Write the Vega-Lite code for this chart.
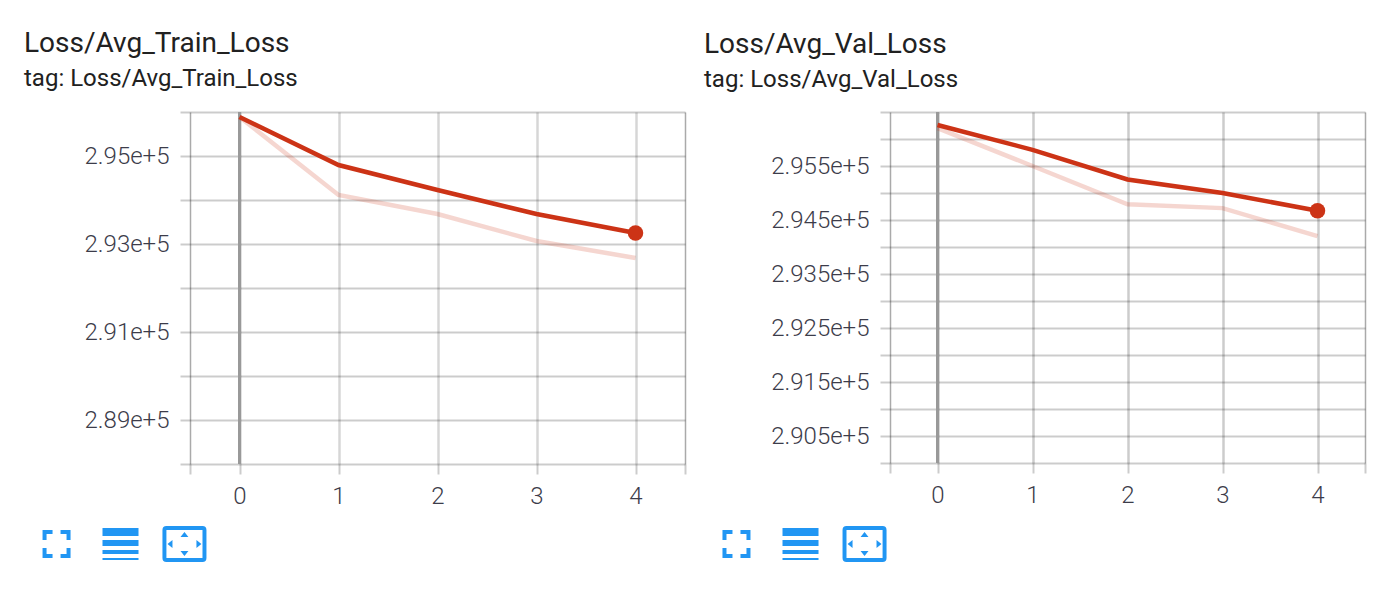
{
  "$schema": "https://vega.github.io/schema/vega-lite/v6.json",
  "padding": {"left": 24, "top": 30, "right": 10, "bottom": 10},
  "background": "white",
  "spacing": 18,
  "config": {
    "font": "Roboto",
    "view": {"stroke": null},
    "title": {"anchor": "start", "frame": "group", "font": "Roboto", "fontSize": 28, "fontWeight": 400, "color": "#212121", "subtitleFont": "Roboto", "subtitleFontSize": 24, "subtitleColor": "#212121", "subtitlePadding": 9, "offset": 19},
    "axis": {
      "domain": false,
      "title": null,
      "grid": true,
      "gridColor": "#000",
      "gridOpacity": 0.2,
      "gridWidth": 2,
      "tickColor": "#000",
      "tickOpacity": 0.2,
      "tickWidth": 2,
      "tickSize": 10,
      "labelFont": "Roboto",
      "labelFontWeight": 300,
      "labelFontSize": 24,
      "labelColor": "#3c3c4a"
    }
  },
  "hconcat": [
    {
      "title": {"text": "Loss/Avg_Train_Loss", "subtitle": "tag: Loss/Avg_Train_Loss", "dx": -166, "dy": 2},
      "width": 495,
      "height": 352,
      "data": {
        "values": [
          {"step": 0, "loss": 295886, "series": "raw"},
          {"step": 1, "loss": 294114, "series": "raw"},
          {"step": 2, "loss": 293682, "series": "raw"},
          {"step": 3, "loss": 293068, "series": "raw"},
          {"step": 4, "loss": 292682, "series": "raw"},
          {"step": 0, "loss": 295886, "series": "smoothed"},
          {"step": 1, "loss": 294795, "series": "smoothed"},
          {"step": 2, "loss": 294227, "series": "smoothed"},
          {"step": 3, "loss": 293682, "series": "smoothed"},
          {"step": 4, "loss": 293250, "series": "smoothed"}
        ]
      },
      "encoding": {
        "x": {
          "field": "step",
          "type": "quantitative",
          "scale": {"domain": [-0.5, 4.5], "nice": false, "zero": false},
          "axis": {
            "values": [-0.5, 0, 1, 2, 3, 4, 4.5],
            "labelPadding": 10,
            "labelExpr": "datum.value % 1 == 0 ? datum.label : ''",
            "gridOpacity": 1,
            "gridColor": {"condition": {"test": "datum.value == -0.5 || datum.value == 4.5", "value": "#aaaaaa"}, "value": "rgba(0,0,0,0.16)"},
            "gridWidth": {"condition": {"test": "datum.value == -0.5 || datum.value == 4.5", "value": 1.5}, "value": 2.5}
          }
        },
        "y": {
          "field": "loss",
          "type": "quantitative",
          "scale": {"domain": [288000, 296000], "nice": false, "zero": false},
          "axis": {
            "values": [288000, 289000, 290000, 291000, 292000, 293000, 294000, 295000, 296000],
            "labelPadding": 11,
            "labelExpr": "(datum.value / 1000) % 2 == 1 ? format(datum.value / 100000, '.2f') + 'e+5' : ''"
          }
        }
      },
      "layer": [
        {
          "data": {"values": [{"step": 0}]},
          "mark": {"type": "rule", "color": "#999999", "strokeWidth": 3},
          "encoding": {"x": {"field": "step", "type": "quantitative"}, "y": {"value": 0}, "y2": {"value": 352}}
        },
        {
          "mark": {"type": "line", "strokeWidth": 4.5, "color": "#cc3316", "opacity": 0.2},
          "transform": [{"filter": "datum.series == 'raw'"}]
        },
        {
          "mark": {"type": "line", "strokeWidth": 4.5, "color": "#cc3316"},
          "transform": [{"filter": "datum.series == 'smoothed'"}]
        },
        {
          "mark": {"type": "circle", "size": 240, "color": "#cc3316", "opacity": 1},
          "transform": [{"filter": "datum.series == 'smoothed' && datum.step == 4"}]
        },
        {
          "data": {"values": [{"step": -1.848, "loss": 286182}]},
          "mark": {"type": "point", "filled": true, "opacity": 1, "color": "#2196f3", "strokeWidth": 0, "size": 784, "shape": "M-1,-1H-.286V-.714H-.714V-.286H-1ZM1,-1V-.286H.714V-.714H.286V-1ZM-1,1V.286H-.714V.714H-.286V1ZM1,1H.286V.714H.714V.286H1Z"}
        },
        {
          "data": {"values": [{"step": -1.202, "loss": 286182}]},
          "mark": {"type": "point", "filled": true, "opacity": 1, "color": "#2196f3", "strokeWidth": 0, "size": 1296, "shape": "M-1,-.889H1V-.444H-1ZM-1,-.222H1V.111H-1ZM-1,.333H1V.556H-1ZM-1,.778H1V.889H-1Z"}
        },
        {
          "data": {"values": [{"step": -0.556, "loss": 286182}]},
          "mark": {"type": "point", "filled": true, "opacity": 1, "color": "#2196f3", "strokeWidth": 0, "size": 1936, "shape": "M-.82,-.82H.82Q1,-.82 1,-.64V.64Q1,.82 .82,.82H-.82Q-1,.82 -1,.64V-.64Q-1,-.82 -.82,-.82ZM-.82,-.64V.64H.82V-.64ZM0,-.545L-.18,-.318H.18ZM0,.545L.18,.318H-.18ZM-.77,0L-.545,.18V-.18ZM.77,0L.545,-.18V.18Z"}
        }
      ]
    },
    {
      "title": {"text": "Loss/Avg_Val_Loss", "subtitle": "tag: Loss/Avg_Val_Loss", "dx": -186},
      "width": 475,
      "height": 351,
      "data": {
        "values": [
          {"step": 0, "loss": 296200, "series": "raw"},
          {"step": 1, "loss": 295500, "series": "raw"},
          {"step": 2, "loss": 294790, "series": "raw"},
          {"step": 3, "loss": 294720, "series": "raw"},
          {"step": 4, "loss": 294200, "series": "raw"},
          {"step": 0, "loss": 296260, "series": "smoothed"},
          {"step": 1, "loss": 295800, "series": "smoothed"},
          {"step": 2, "loss": 295250, "series": "smoothed"},
          {"step": 3, "loss": 295000, "series": "smoothed"},
          {"step": 4, "loss": 294670, "series": "smoothed"}
        ]
      },
      "encoding": {
        "x": {
          "field": "step",
          "type": "quantitative",
          "scale": {"domain": [-0.5, 4.5], "nice": false, "zero": false},
          "axis": {
            "values": [-0.5, 0, 1, 2, 3, 4, 4.5],
            "labelPadding": 10,
            "labelExpr": "datum.value % 1 == 0 ? datum.label : ''",
            "gridOpacity": 1,
            "gridColor": {"condition": {"test": "datum.value == -0.5 || datum.value == 4.5", "value": "#aaaaaa"}, "value": "rgba(0,0,0,0.2)"},
            "gridWidth": {"condition": {"test": "datum.value == -0.5 || datum.value == 4.5", "value": 1.5}, "value": 2.5}
          }
        },
        "y": {
          "field": "loss",
          "type": "quantitative",
          "scale": {"domain": [290000, 296500], "nice": false, "zero": false},
          "axis": {
            "values": [290000, 290500, 291000, 291500, 292000, 292500, 293000, 293500, 294000, 294500, 295000, 295500, 296000, 296500],
            "labelPadding": 11,
            "labelExpr": "(datum.value / 1000) % 1 == 0.5 && datum.value < 296000 ? format(datum.value / 100000, '.3f') + 'e+5' : ''"
          }
        }
      },
      "layer": [
        {
          "data": {"values": [{"step": 0}]},
          "mark": {"type": "rule", "color": "#999999", "strokeWidth": 3},
          "encoding": {"x": {"field": "step", "type": "quantitative"}, "y": {"value": 0}, "y2": {"value": 351}}
        },
        {
          "mark": {"type": "line", "strokeWidth": 4.5, "color": "#cc3316", "opacity": 0.2},
          "transform": [{"filter": "datum.series == 'raw'"}]
        },
        {
          "mark": {"type": "line", "strokeWidth": 4.5, "color": "#cc3316"},
          "transform": [{"filter": "datum.series == 'smoothed'"}]
        },
        {
          "mark": {"type": "circle", "size": 240, "color": "#cc3316", "opacity": 1},
          "transform": [{"filter": "datum.series == 'smoothed' && datum.step == 4"}]
        },
        {
          "data": {"values": [{"step": -2.116, "loss": 288500}]},
          "mark": {"type": "point", "filled": true, "opacity": 1, "color": "#2196f3", "strokeWidth": 0, "size": 784, "shape": "M-1,-1H-.286V-.714H-.714V-.286H-1ZM1,-1V-.286H.714V-.714H.286V-1ZM-1,1V.286H-.714V.714H-.286V1ZM1,1H.286V.714H.714V.286H1Z"}
        },
        {
          "data": {"values": [{"step": -1.442, "loss": 288500}]},
          "mark": {"type": "point", "filled": true, "opacity": 1, "color": "#2196f3", "strokeWidth": 0, "size": 1296, "shape": "M-1,-.889H1V-.444H-1ZM-1,-.222H1V.111H-1ZM-1,.333H1V.556H-1ZM-1,.778H1V.889H-1Z"}
        },
        {
          "data": {"values": [{"step": -0.768, "loss": 288500}]},
          "mark": {"type": "point", "filled": true, "opacity": 1, "color": "#2196f3", "strokeWidth": 0, "size": 1936, "shape": "M-.82,-.82H.82Q1,-.82 1,-.64V.64Q1,.82 .82,.82H-.82Q-1,.82 -1,.64V-.64Q-1,-.82 -.82,-.82ZM-.82,-.64V.64H.82V-.64ZM0,-.545L-.18,-.318H.18ZM0,.545L.18,.318H-.18ZM-.77,0L-.545,.18V-.18ZM.77,0L.545,-.18V.18Z"}
        }
      ]
    }
  ]
}
